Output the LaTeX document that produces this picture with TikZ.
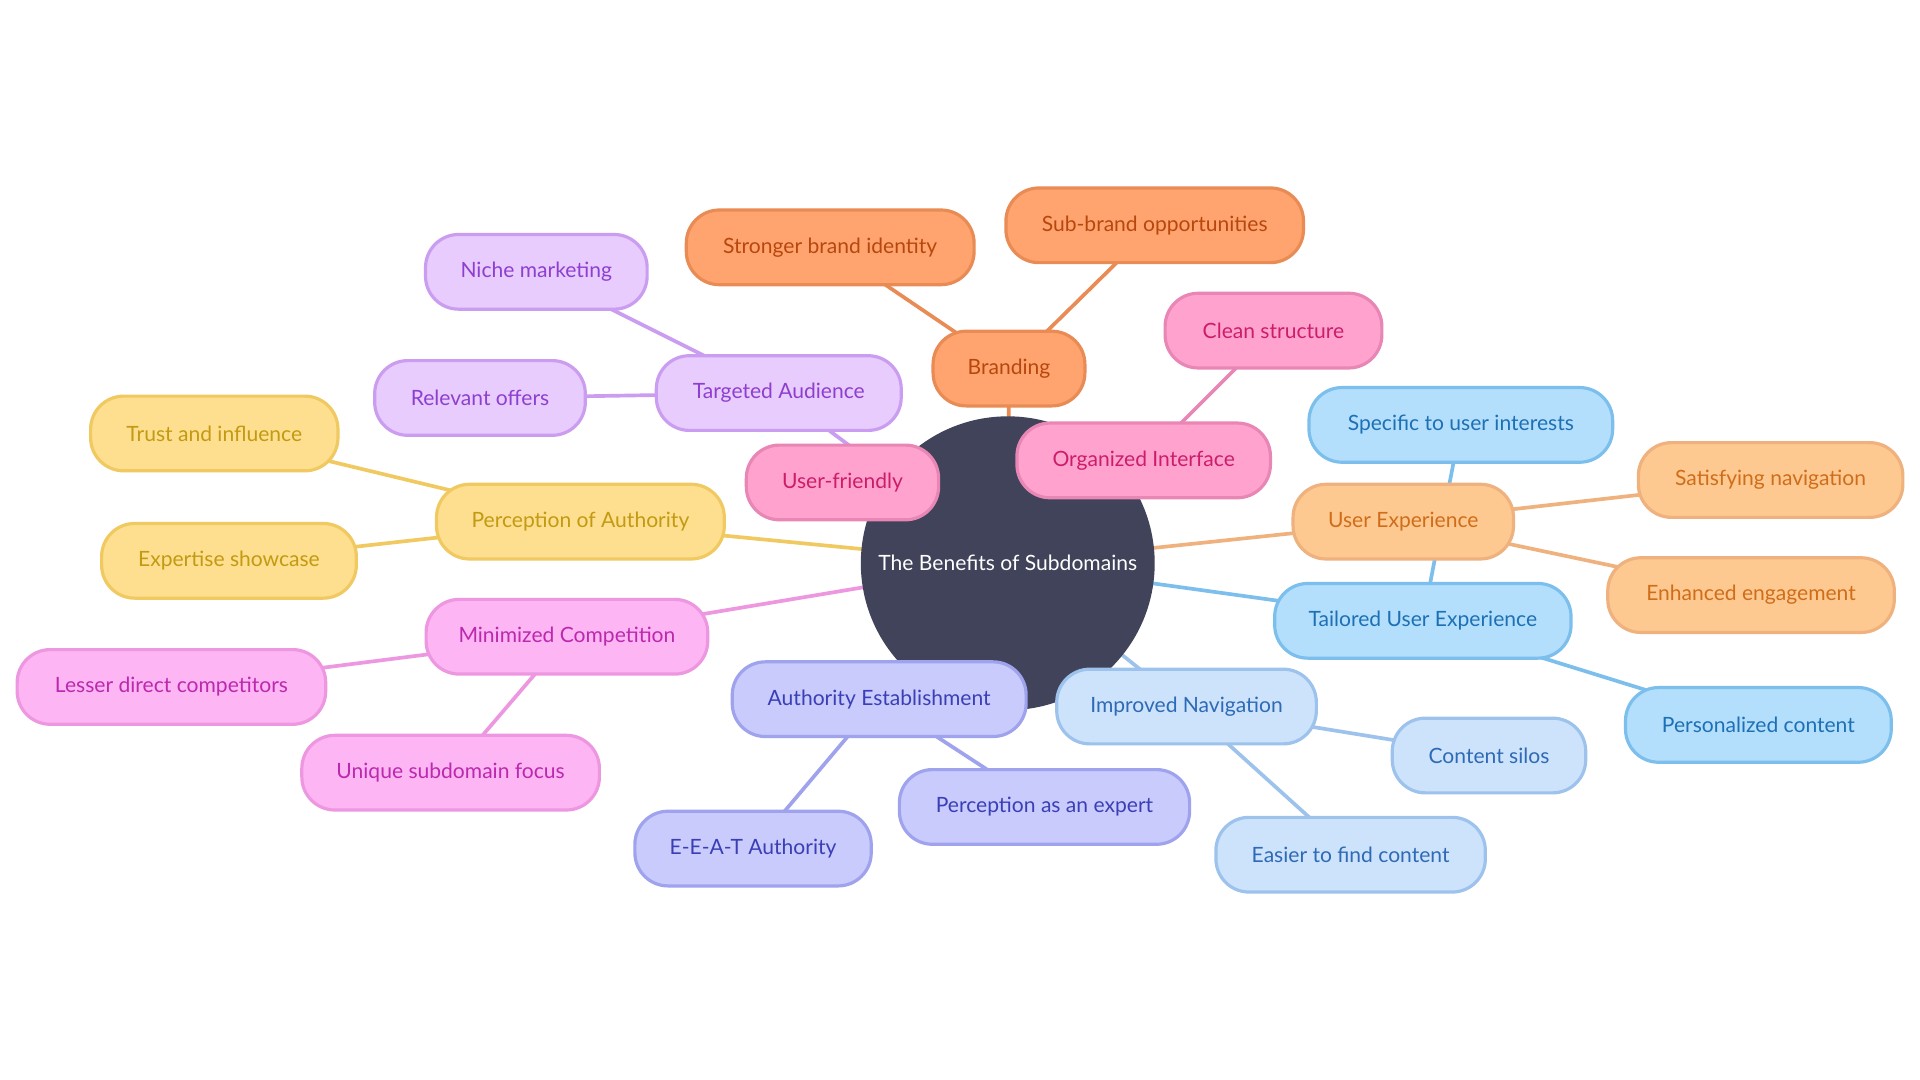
\documentclass[tikz,border=0pt]{standalone}
\usepackage{fontspec}
\setmainfont{Lato}
\pgfdeclarelayer{bg}
\pgfdeclarelayer{edges}
\pgfsetlayers{bg,edges,main}
\definecolor{orF}{HTML}{FFA46E}\definecolor{orB}{HTML}{E98B55}\definecolor{orT}{HTML}{B8470F}
\definecolor{piF}{HTML}{FFA3CE}\definecolor{piB}{HTML}{E886B5}\definecolor{piT}{HTML}{CC1D6C}
\definecolor{puF}{HTML}{E8CCFD}\definecolor{puB}{HTML}{CB9DF0}\definecolor{puT}{HTML}{8E3FD0}
\definecolor{yeF}{HTML}{FDDF8F}\definecolor{yeB}{HTML}{F0C961}\definecolor{yeT}{HTML}{C39A12}
\definecolor{maF}{HTML}{FDB5F4}\definecolor{maB}{HTML}{EE97E1}\definecolor{maT}{HTML}{BB29AD}
\definecolor{inF}{HTML}{C9CBFD}\definecolor{inB}{HTML}{9FA2EC}\definecolor{inT}{HTML}{3B3FB5}
\definecolor{lbF}{HTML}{CDE3FC}\definecolor{lbB}{HTML}{9DC2EC}\definecolor{lbT}{HTML}{2E6AB5}
\definecolor{blF}{HTML}{B3DFFD}\definecolor{blB}{HTML}{7CBEEC}\definecolor{blT}{HTML}{1E70B4}
\definecolor{peF}{HTML}{FEC891}\definecolor{peB}{HTML}{EFB27E}\definecolor{peT}{HTML}{CF6E1A}
\definecolor{rootF}{HTML}{404359}
\tikzset{
  pill/.style={draw, rounded corners=27pt, line width=2.6pt, minimum height=61pt, inner sep=0pt, font=\fontsize{17.2}{19}\selectfont},
  grpOr/.style={pill, fill=orF, draw=orB, text=orT},
  grpPi/.style={pill, fill=piF, draw=piB, text=piT},
  grpPu/.style={pill, fill=puF, draw=puB, text=puT},
  grpYe/.style={pill, fill=yeF, draw=yeB, text=yeT},
  grpMa/.style={pill, fill=maF, draw=maB, text=maT},
  grpIn/.style={pill, fill=inF, draw=inB, text=inT},
  grpLb/.style={pill, fill=lbF, draw=lbB, text=lbT},
  grpBl/.style={pill, fill=blF, draw=blB, text=blT},
  grpPe/.style={pill, fill=peF, draw=peB, text=peT},
  rootnode/.style={circle, fill=rootF, minimum size=240pt, inner sep=0pt, text=white, font=\fontsize{17.2}{19}\selectfont},
  link/.style={line width=3pt},
}
\begin{document}
\begin{tikzpicture}[x=1pt,y=-1pt]
\begin{pgfonlayer}{bg}
\fill[white] (0,0) rectangle (1568,882);
\end{pgfonlayer}
\useasboundingbox (0,0) rectangle (1568,882);

\node[rootnode] (root) at (823,460) {The Benefits of Subdomains};

\node[grpOr, minimum width=124pt] (branding) at (824,301) {Branding};
\node[grpOr, minimum width=235pt] (stronger) at (678,202) {Stronger brand identity};
\node[grpOr, minimum width=243pt] (subbrand) at (943,184) {Sub-brand opportunities};

\node[grpPi, minimum width=177pt] (clean) at (1040,270) {Clean structure};
\node[grpPi, minimum width=207pt] (organized) at (934,376) {Organized Interface};
\node[grpPi, minimum width=157pt] (userfriendly) at (688,394) {User-friendly};

\node[grpPu, minimum width=200pt] (targeted) at (636,321) {Targeted Audience};
\node[grpPu, minimum width=181pt] (niche) at (438,222) {Niche marketing};
\node[grpPu, minimum width=172pt] (relevant) at (392,325) {Relevant offers};

\node[grpYe, minimum width=235pt] (poa) at (474,426) {Perception of Authority};
\node[grpYe, minimum width=202pt] (trust) at (175,354) {Trust and influence};
\node[grpYe, minimum width=208pt] (expertise) at (187,458) {Expertise showcase};

\node[grpMa, minimum width=230pt] (minimized) at (463,520) {Minimized Competition};
\node[grpMa, minimum width=252pt] (lesser) at (140,561) {Lesser direct competitors};
\node[grpMa, minimum width=243pt] (unique) at (368,631) {Unique subdomain focus};

\node[grpIn, minimum width=240pt] (authest) at (718,571) {Authority Establishment};
\node[grpIn, minimum width=193pt] (eeat) at (615,693) {E-E-A-T Authority};
\node[grpIn, minimum width=237pt] (expert) at (853,659) {Perception as an expert};

\node[grpLb, minimum width=212pt] (impnav) at (969,577) {Improved Navigation};
\node[grpLb, minimum width=158pt] (silos) at (1216,617) {Content silos};
\node[grpLb, minimum width=220pt] (easier) at (1103,698) {Easier to find content};

\node[grpBl, minimum width=242pt] (tailored) at (1162,507) {Tailored User Experience};
\node[grpBl, minimum width=248pt] (specific) at (1193,347) {Specific to user interests};
\node[grpBl, minimum width=217pt] (personal) at (1436,592) {Personalized content};

\node[grpPe, minimum width=180pt] (ux) at (1146,426) {User Experience};
\node[grpPe, minimum width=216pt] (satisfying) at (1446,392) {Satisfying navigation};
\node[grpPe, minimum width=234pt] (enhanced) at (1430,486) {Enhanced engagement};

\begin{pgfonlayer}{edges}
\draw[link, orB] (root.center) -- (branding.center);
\draw[link, orB] (branding.center) -- (stronger.center);
\draw[link, orB] (branding.center) -- (subbrand.center);
\draw[link, piB] (root.center) -- (organized.center);
\draw[link, piB] (organized.center) -- (clean.center);
\draw[link, piB] (organized.center) -- (userfriendly.center);
\draw[link, puB] (root.center) -- (targeted.center);
\draw[link, puB] (targeted.center) -- (niche.center);
\draw[link, puB] (targeted.center) -- (relevant.center);
\draw[link, yeB] (root.center) -- (poa.center);
\draw[link, yeB] (poa.center) -- (trust.center);
\draw[link, yeB] (poa.center) -- (expertise.center);
\draw[link, maB] (root.center) -- (minimized.center);
\draw[link, maB] (minimized.center) -- (lesser.center);
\draw[link, maB] (minimized.center) -- (unique.center);
\draw[link, inB] (root.center) -- (authest.center);
\draw[link, inB] (authest.center) -- (eeat.center);
\draw[link, inB] (authest.center) -- (expert.center);
\draw[link, lbB] (root.center) -- (impnav.center);
\draw[link, lbB] (impnav.center) -- (silos.center);
\draw[link, lbB] (impnav.center) -- (easier.center);
\draw[link, blB] (root.center) -- (tailored.center);
\draw[link, blB] (tailored.center) -- (specific.center);
\draw[link, blB] (tailored.center) -- (personal.center);
\draw[link, peB] (root.center) -- (ux.center);
\draw[link, peB] (ux.center) -- (satisfying.center);
\draw[link, peB] (ux.center) -- (enhanced.center);
\end{pgfonlayer}
\end{tikzpicture}
\end{document}
